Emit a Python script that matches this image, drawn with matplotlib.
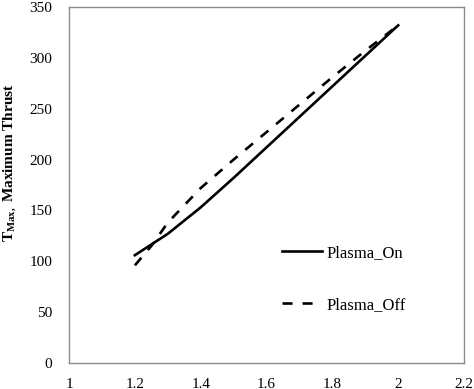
import matplotlib
matplotlib.use("Agg")
import matplotlib.pyplot as plt

x_on = [1.2, 1.3, 1.4, 1.5, 1.6, 1.7, 1.8, 1.9, 2.0]
y_on = [106, 127, 153, 182, 212, 242, 272, 302, 332]
x_off = [1.2, 1.25, 1.3, 1.4, 1.5, 1.6, 1.7, 1.8, 1.9, 2.0]
y_off = [96, 115, 138, 172, 200, 227, 254, 281, 307, 332]
xticks = [1, 1.2, 1.4, 1.6, 1.8, 2, 2.2]
xticklabels = ["1", "1.2", "1.4", "1.6", "1.8", "2", "2.2"]
yticks = [0, 50, 100, 150, 200, 250, 300, 350]

plt.rcParams['font.family'] = ['Liberation Serif', 'DejaVu Serif']
plt.rcParams['mathtext.fontset'] = 'custom'
plt.rcParams['mathtext.rm'] = 'Liberation Serif:bold'
plt.rcParams['mathtext.bf'] = 'Liberation Serif:bold'

fig = plt.figure(figsize=(4.74, 3.89), dpi=100)
ax = fig.add_axes([0.1456, 0.0668, 0.979 - 0.1456, 0.982 - 0.0668])

ax.plot(x_on, y_on, color='black', lw=1.9, label='Plasma_On')
ax.plot(x_off, y_off, color='black', lw=1.9, ls=(0, (3.8, 3.8)), label='Plasma_Off')

ax.set_xlim(1, 2.2)
ax.set_ylim(0, 350)
ax.set_xticks(xticks)
ax.set_xticklabels(xticklabels)
ax.set_yticks(yticks)
ax.tick_params(axis='both', length=0, labelsize=11)
ax.tick_params(axis='x', pad=11)
ax.tick_params(axis='y', pad=12)
for s in ax.spines.values():
    s.set_color('#8c8c8c')
    s.set_linewidth(1.0)

ax.set_ylabel(r'T$_{\mathregular{Max,}}$ Maximum Thrust', fontsize=11, fontweight='bold')
ax.yaxis.set_label_coords(-0.127, 0.562)

leg = ax.legend(loc='upper left', bbox_to_anchor=(0.539, 0.331), frameon=False,
                prop={'size': 12}, handlelength=2.4, borderpad=0, borderaxespad=0,
                handletextpad=0.3, labelspacing=2.14)

fig.savefig('out.png', dpi=100)
